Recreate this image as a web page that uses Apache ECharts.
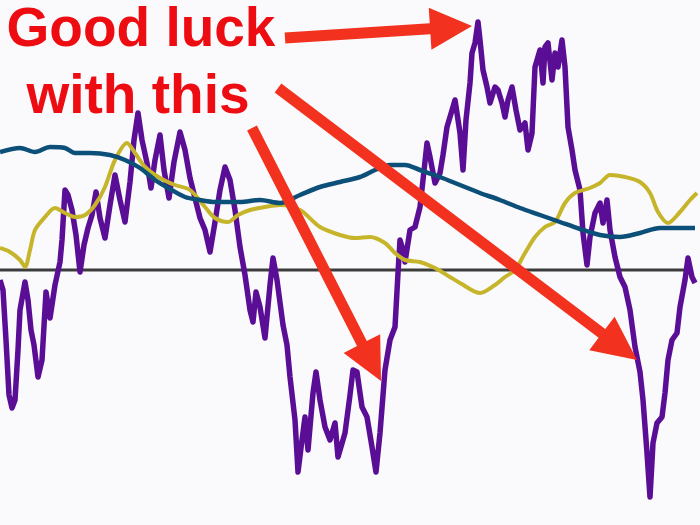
<!DOCTYPE html>
<html>
<head>
<meta charset="utf-8">
<script src="https://cdn.jsdelivr.net/npm/echarts@6/dist/echarts.min.js"></script>
<style>
html,body{margin:0;padding:0;background:#fafafc;}
#chart{width:700px;height:525px;}
</style>
</head>
<body>
<div id="chart"></div>
<script>
// Oscillator (purple) : [position, value]
var oscillator = [
[0,-10],[3,-20],[6,-70],[9,-125],[12,-138],[15,-130],[18,-80],[20,-40],[25,-12],[28,-30],
[31,-60],[34,-75],[38,-107],[42,-90],[46,-22],[50,-48],[55,-15],[60,8],[62,30],[65,80],
[68,75],[72,60],[76,35],[80,-2],[84,25],[88,42],[92,55],[96,78],[100,52],[105,32],
[110,65],[115,95],[120,70],[125,48],[130,88],[134,130],[138,157],[142,130],[147,107],[151,82],
[155,110],[160,135],[164,100],[169,72],[174,108],[180,138],[185,120],[190,92],[195,72],[200,52],
[205,40],[210,18],[215,48],[220,80],[225,103],[230,90],[235,60],[240,23],[245,-5],[250,-40],
[253,-52],[256,-22],[260,-37],[265,-68],[270,-15],[273,12],[277,-10],[283,-55],[287,-75],[290,-107],
[295,-150],[298,-202],[302,-170],[305,-147],[308,-180],[313,-123],[316,-102],[320,-130],[325,-157],[330,-170],
[335,-153],[338,-187],[345,-163],[350,-125],[353,-100],[357,-102],[362,-137],[367,-147],[372,-177],[376,-202],
[380,-163],[385,-100],[390,-70],[395,-57],[398,-3],[400,30],[403,20],[405,8],[410,40],[415,43],
[420,63],[423,90],[427,127],[430,113],[435,87],[440,97],[443,115],[447,143],[450,153],[455,170],
[460,137],[463,100],[466,150],[470,187],[472,217],[475,227],[478,248],[480,230],[483,200],[487,183],
[490,167],[495,183],[498,180],[502,167],[505,153],[508,170],[512,183],[516,160],[520,140],[525,147],
[528,120],[532,137],[535,203],[540,220],[543,187],[545,223],[548,227],[552,190],[555,217],[558,203],
[562,230],[565,203],[568,143],[572,120],[575,100],[580,80],[583,37],[587,5],[590,33],[595,57],
[600,67],[603,47],[607,70],[610,40],[615,13],[620,-7],[625,-17],[630,-40],[635,-77],[640,-102],
[643,-130],[647,-183],[650,-227],[653,-173],[657,-153],[662,-147],[665,-123],[668,-90],[672,-70],[677,-63],
[680,-37],[685,-10],[688,12],[692,-7],[695,-13]
];
// Slow average (blue)
var slowAvg = [
[0,118],[20,122],[35,118],[50,123],[65,122],[75,117],[90,117],[110,115],[125,110],[140,102],
[155,90],[170,81],[185,73],[200,70],[215,68],[240,68],[260,70],[280,67],[300,75],[320,83],
[340,88],[360,93],[375,100],[390,105],[405,105],[420,100],[440,93],[460,85],[480,77],[500,70],
[520,62],[540,55],[560,48],[580,41],[600,35],[620,33],[640,37],[660,42],[680,42],[695,42]
];
// Fast average (yellow)
var fastAvg = [
[0,22],[10,18],[20,10],[25,3],[30,20],[35,40],[45,53],[55,62],[65,57],[75,53],
[85,55],[95,65],[105,83],[115,110],[127,127],[135,117],[145,103],[160,92],[175,85],[190,80],
[205,63],[215,52],[228,48],[238,55],[250,60],[265,63],[280,65],[300,60],[320,43],[340,35],
[355,32],[370,33],[385,27],[395,17],[405,10],[420,8],[435,2],[450,-7],[460,-13],[480,-23],
[495,-15],[505,-7],[515,0],[525,17],[535,33],[545,43],[555,48],[565,67],[575,77],[590,82],
[600,87],[610,95],[625,93],[640,88],[650,77],[658,58],[668,47],[680,58],[690,70],[697,77]
];
// Zero line
var zeroLine = [[0,0],[687,0]];
var titleLines = ['Good luck', 'with this'];

function arrow(x0,y0,x1,y1,w,L,H){
  var dx=x1-x0, dy=y1-y0, len=Math.sqrt(dx*dx+dy*dy);
  var ux=dx/len, uy=dy/len, nx=-uy, ny=ux;
  var bx=x1-ux*L, by=y1-uy*L;
  return {type:'polygon', z:100, shape:{points:[
    [x0+nx*w,y0+ny*w],[bx+nx*w,by+ny*w],[bx+nx*H,by+ny*H],[x1,y1],
    [bx-nx*H,by-ny*H],[bx-nx*w,by-ny*w],[x0-nx*w,y0-ny*w]]},
    style:{fill:'#f2321f'}};
}

var chart = echarts.init(document.getElementById('chart'));
chart.setOption({
  backgroundColor:'#fafafc',
  animation:false,
  grid:{left:0,right:0,top:0,bottom:0},
  xAxis:{type:'value',min:0,max:700,show:false},
  yAxis:{type:'value',min:-255,max:270,show:false},
  series:[
    {type:'line',data:zeroLine,showSymbol:false,lineStyle:{color:'#3c3c3c',width:3},z:1},
    {type:'line',data:oscillator,showSymbol:false,lineStyle:{color:'#5a0e96',width:5.5,join:'round'},z:2},
    {type:'line',data:fastAvg,showSymbol:false,smooth:0.3,lineStyle:{color:'#c6b52a',width:4},z:3},
    {type:'line',data:slowAvg,showSymbol:false,smooth:0.3,lineStyle:{color:'#0c4f78',width:4.5},z:4}
  ],
  graphic:[
    arrow(285,38,472,26,5.5,42,21),
    arrow(278,88,637,360,5.5,44,21),
    arrow(252,128,381,381,5.5,42,20.5),
    {type:'text',z:101,style:{text:titleLines[0],x:141,y:31,align:'center',verticalAlign:'middle',
      font:'bold 55px "Liberation Sans", Arial, sans-serif',fill:'#ec0c12'}},
    {type:'text',z:101,style:{text:titleLines[1],x:138,y:98,align:'center',verticalAlign:'middle',
      font:'bold 55px "Liberation Sans", Arial, sans-serif',fill:'#ec0c12'}}
  ]
});
</script>
</body>
</html>
